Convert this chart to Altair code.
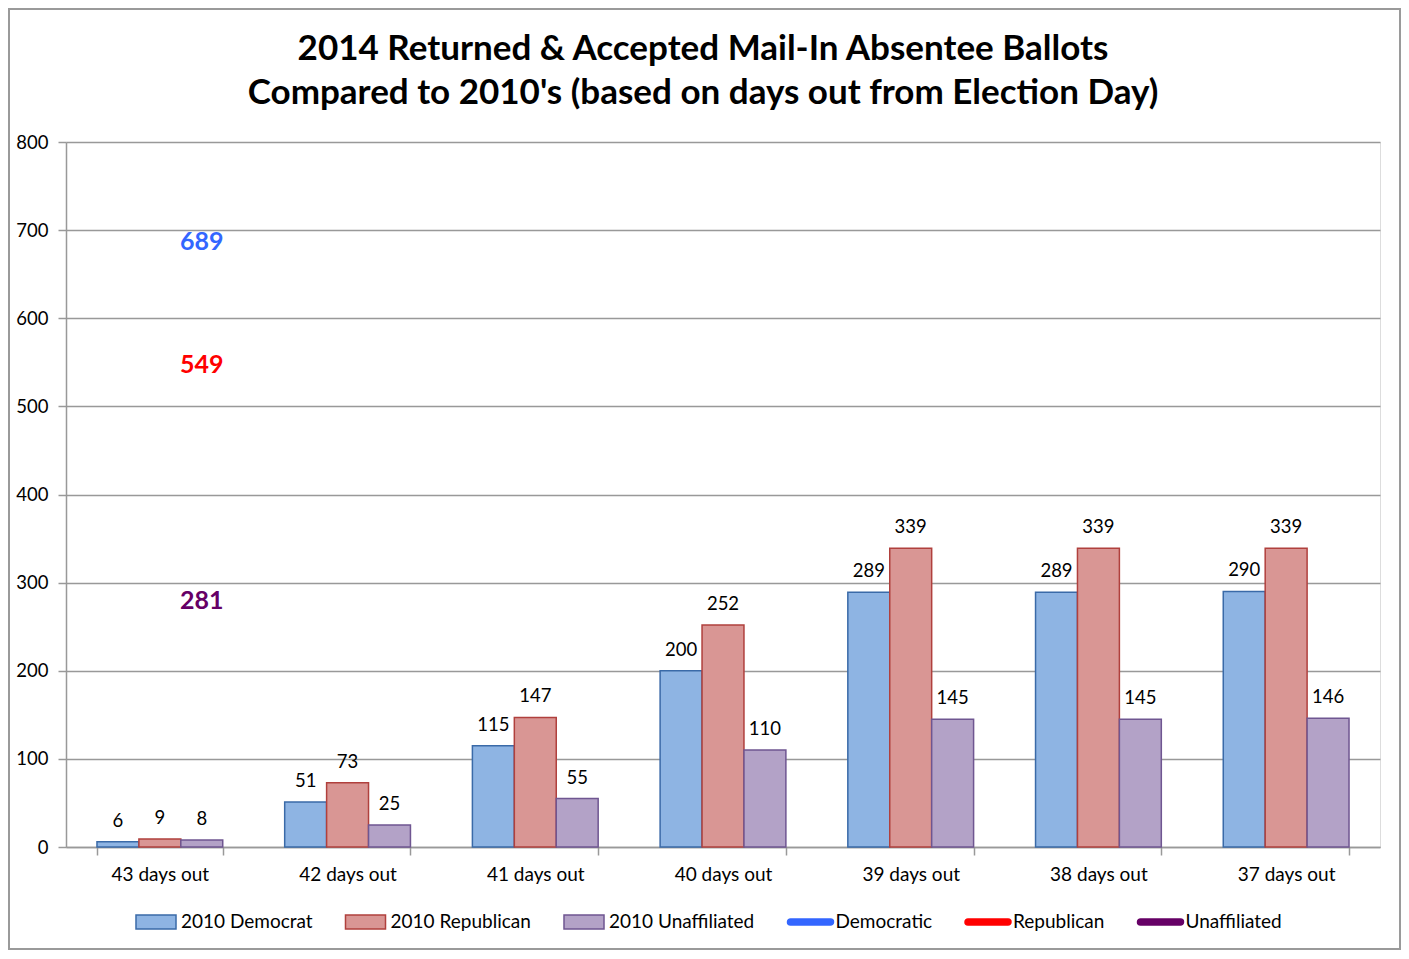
import altair as alt
import pandas as pd

days = ["43 days out", "42 days out", "41 days out", "40 days out",
        "39 days out", "38 days out", "37 days out"]
dem_2010 = [6, 51, 115, 200, 289, 289, 290]
rep_2010 = [9, 73, 147, 252, 339, 339, 339]
una_2010 = [8, 25, 55, 110, 145, 145, 146]

series_2010 = ["2010 Democrat", "2010 Republican", "2010 Unaffiliated"]
series_2014 = ["Democratic", "Republican", "Unaffiliated"]
day_2014 = ["43 days out", "43 days out", "43 days out"]
val_2014 = [689, 549, 281]

title_lines = ["2014 Returned & Accepted Mail-In Absentee Ballots",
               "Compared to 2010's (based on days out from Election Day)"]

all_series = series_2010 + series_2014
fill_colors = ["#8EB4E3", "#D99694", "#B3A2C7", "#3366FF", "#FF0000", "#660066"]
stroke_colors = ["#3A6AA8", "#B0403D", "#6F5691", "#3366FF", "#FF0000", "#660066"]
rect_path = "M-0.87,-0.3H0.87V0.3H-0.87Z"
line_path = "M-0.87,-0.13H0.87A0.13,0.13 0 0 1 0.87,0.13H-0.87A0.13,0.13 0 0 1 -0.87,-0.13Z"
shapes = [rect_path] * 3 + [line_path] * 3

rows = []
for s, vals in zip(series_2010, [dem_2010, rep_2010, una_2010]):
    for d, v in zip(days, vals):
        rows.append({"day": d, "series": s, "value": v})
bars_df = pd.DataFrame(rows)
df14 = pd.DataFrame({"day": day_2014, "series": series_2014, "value": val_2014})

FONT = "Lato"
W, H = 1314, 705

x_enc = alt.X("day:N", sort=days, title=None,
              scale=alt.Scale(paddingInner=0.33, paddingOuter=0.165),
              axis=alt.Axis(labelAngle=0, tickBand="extent", tickSize=8,
                            labelPadding=10, labelFontSize=19, labelFont=FONT,
                            labelColor="#000", tickColor="#999", domainColor="#999",
                            tickWidth=1.5, domainWidth=1.5, grid=False))
y_enc = alt.Y("value:Q", title=None,
              scale=alt.Scale(domain=[0, 800], nice=False),
              axis=alt.Axis(values=list(range(0, 801, 100)), tickSize=8,
                            labelPadding=10, labelFontSize=18.5, labelFont=FONT,
                            labelColor="#000", tickColor="#999", domainColor="#999",
                            tickWidth=1.5, domainWidth=1.5, gridColor="#999",
                            gridWidth=1.5))
xoff = alt.XOffset("series:N", sort=series_2010,
                   scale=alt.Scale(domain=series_2010, paddingInner=0, paddingOuter=0))

legend = alt.Legend(title=None, orient="none", direction="horizontal",
                    legendX=66, legendY=756, symbolSize=2116,
                    symbolStrokeWidth=1.5, labelFontSize=19, labelFont=FONT,
                    labelColor="#000", labelOffset=1, columnPadding=28.5,
                    columns=6)
color_enc = alt.Color("series:N",
                      scale=alt.Scale(domain=all_series, range=fill_colors),
                      legend=legend)
stroke_enc = alt.Stroke("series:N",
                        scale=alt.Scale(domain=all_series, range=stroke_colors),
                        legend=legend)
shape_enc = alt.Shape("series:N",
                      scale=alt.Scale(domain=all_series, range=shapes),
                      legend=legend)

bars = alt.Chart(bars_df).mark_bar(strokeWidth=1.5).encode(
    x=x_enc, y=y_enc, xOffset=xoff, color=color_enc, stroke=stroke_enc
)
bar_labels = alt.Chart(bars_df).mark_text(
    baseline="middle", dy=-21, fontSize=18.5, font=FONT, color="#000"
).encode(x=x_enc, y=y_enc, xOffset=xoff, text="value:Q")

points14 = alt.Chart(df14).mark_point(filled=True, opacity=0).encode(
    x=x_enc, y=y_enc, color=color_enc, shape=shape_enc
)
labels14 = alt.Chart(df14).mark_text(
    baseline="middle", dx=42, dy=2, fontSize=25, font=FONT, fontWeight="bold"
).encode(x=x_enc, y=y_enc, text="value:Q", color=color_enc)

frame = alt.Chart(alt.Data(values=[{"a": 1}])).mark_rect(
    fillOpacity=0, stroke="#9a9a9a", strokeWidth=2
).encode(x=alt.value(-57), x2=alt.value(W + 20), y=alt.value(-133), y2=alt.value(H + 102))

title1 = alt.Chart(alt.Data(values=[{"t": title_lines[0]}])).mark_text(
    fontSize=35, font=FONT, fontWeight="bold", color="#000",
    align="center", baseline="alphabetic"
).encode(text="t:N", x=alt.value(637), y=alt.value(-82))
title2 = alt.Chart(alt.Data(values=[{"t": title_lines[1]}])).mark_text(
    fontSize=35, font=FONT, fontWeight="bold", color="#000",
    align="center", baseline="alphabetic"
).encode(text="t:N", x=alt.value(637), y=alt.value(-38))

chart = alt.layer(bars, bar_labels, points14, labels14, frame, title1, title2).properties(
    width=W, height=H,
    padding={"left": 58, "top": 134, "right": 21, "bottom": 104},
    autosize=alt.AutoSizeParams(type="none"),
).configure_view(stroke="transparent").configure(background="white")

chart.save("out.html", embed_options={"renderer": "svg", "actions": False})
